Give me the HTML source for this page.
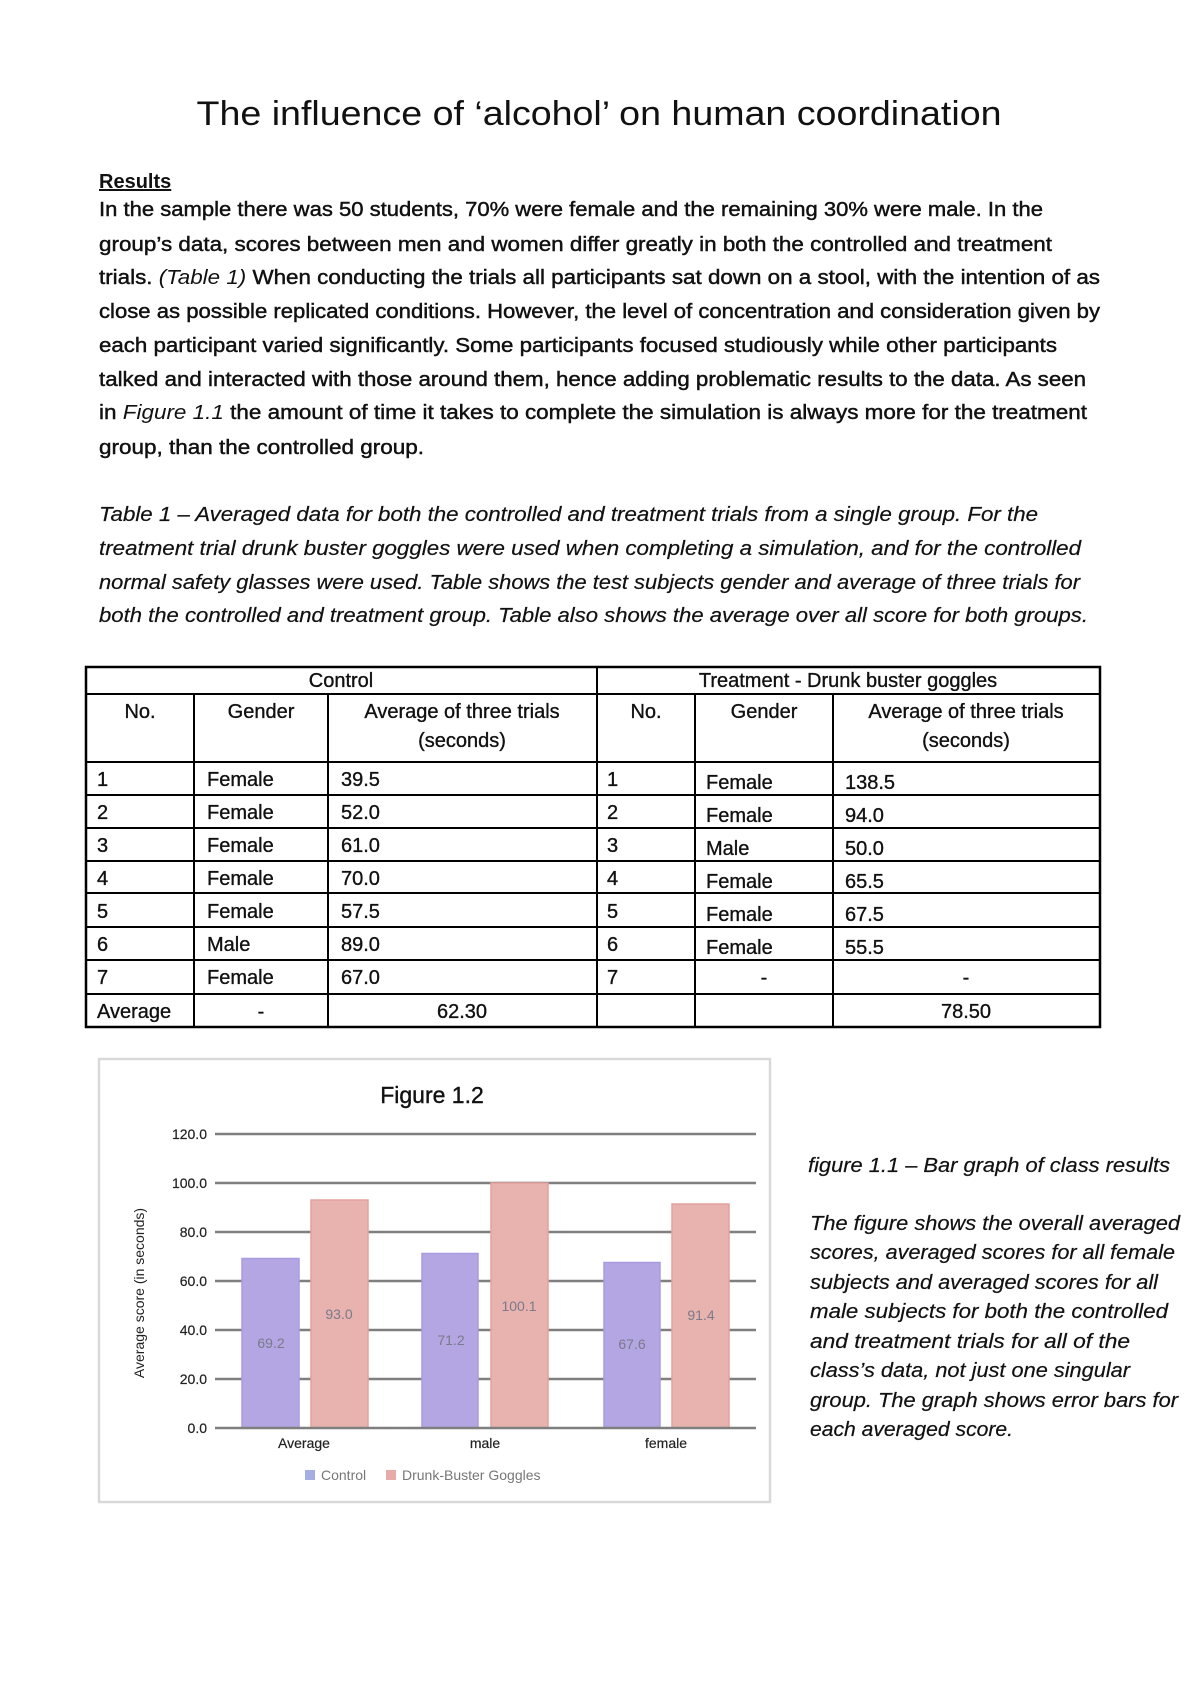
<!DOCTYPE html>
<html><head><meta charset="utf-8"><style>html,body{margin:0;padding:0;background:#fff}svg{display:block}</style></head>
<body>
<svg width="1200" height="1698" viewBox="0 0 1200 1698" xmlns="http://www.w3.org/2000/svg" font-family="'Liberation Sans', sans-serif">
<rect width="1200" height="1698" fill="#fff"/>
<text x="599" y="125" font-size="34" text-anchor="middle" textLength="805" lengthAdjust="spacingAndGlyphs" fill="#111">The influence of ‘alcohol’ on human coordination</text>
<text x="99" y="188" font-size="20" font-weight="bold" text-decoration="underline" fill="#111">Results</text>
<g font-size="20" fill="#111" stroke="#111" stroke-width="0.45">
<text x="99" y="216" textLength="944" lengthAdjust="spacingAndGlyphs">In the sample there was 50 students, 70% were female and the remaining 30% were male. In the</text>
<text x="99" y="251" textLength="953" lengthAdjust="spacingAndGlyphs">group’s data, scores between men and women differ greatly in both the controlled and treatment</text>
<text x="99" y="284" textLength="1001" lengthAdjust="spacingAndGlyphs">trials. <tspan font-style="italic" stroke-width="0">(Table 1)</tspan> When conducting the trials all participants sat down on a stool, with the intention of as</text>
<text x="99" y="318" textLength="1001" lengthAdjust="spacingAndGlyphs">close as possible replicated conditions. However, the level of concentration and consideration given by</text>
<text x="99" y="352" textLength="958" lengthAdjust="spacingAndGlyphs">each participant varied significantly. Some participants focused studiously while other participants</text>
<text x="99" y="386" textLength="987" lengthAdjust="spacingAndGlyphs">talked and interacted with those around them, hence adding problematic results to the data. As seen</text>
<text x="99" y="419" textLength="988" lengthAdjust="spacingAndGlyphs">in <tspan font-style="italic" stroke-width="0">Figure 1.1</tspan> the amount of time it takes to complete the simulation is always more for the treatment</text>
<text x="99" y="454" textLength="325" lengthAdjust="spacingAndGlyphs">group, than the controlled group.</text>
</g>
<g font-size="20" font-style="italic" fill="#111" stroke="#111" stroke-width="0.2">
<text x="99" y="521" textLength="939" lengthAdjust="spacingAndGlyphs">Table 1 – Averaged data for both the controlled and treatment trials from a single group. For the</text>
<text x="99" y="555" textLength="982" lengthAdjust="spacingAndGlyphs">treatment trial drunk buster goggles were used when completing a simulation, and for the controlled</text>
<text x="99" y="589" textLength="981" lengthAdjust="spacingAndGlyphs">normal safety glasses were used. Table shows the test subjects gender and average of three trials for</text>
<text x="99" y="622" textLength="989" lengthAdjust="spacingAndGlyphs">both the controlled and treatment group. Table also shows the average over all score for both groups.</text>
</g>
<g stroke="#000" fill="none">
<rect x="86" y="667" width="1014" height="360" stroke-width="2.5"/>
<g stroke-width="2">
<line x1="86" y1="694" x2="1100" y2="694"/>
<line x1="86" y1="762" x2="1100" y2="762"/>
<line x1="86" y1="795" x2="1100" y2="795"/>
<line x1="86" y1="828" x2="1100" y2="828"/>
<line x1="86" y1="861" x2="1100" y2="861"/>
<line x1="86" y1="893" x2="1100" y2="893"/>
<line x1="86" y1="927" x2="1100" y2="927"/>
<line x1="86" y1="960" x2="1100" y2="960"/>
<line x1="86" y1="994" x2="1100" y2="994"/>
<line x1="597" y1="667" x2="597" y2="1027"/>
<line x1="194" y1="694" x2="194" y2="1027"/>
<line x1="328" y1="694" x2="328" y2="1027"/>
<line x1="695" y1="694" x2="695" y2="1027"/>
<line x1="833" y1="694" x2="833" y2="1027"/>
</g></g>
<g font-size="20" fill="#111" stroke="#111" stroke-width="0.35">
<text x="341" y="687" text-anchor="middle">Control</text>
<text x="848" y="687" text-anchor="middle">Treatment - Drunk buster goggles</text>
<text x="140" y="718" text-anchor="middle">No.</text>
<text x="261" y="718" text-anchor="middle">Gender</text>
<text x="462" y="718" text-anchor="middle">Average of three trials</text>
<text x="462" y="747" text-anchor="middle">(seconds)</text>
<text x="646" y="718" text-anchor="middle">No.</text>
<text x="764" y="718" text-anchor="middle">Gender</text>
<text x="966" y="718" text-anchor="middle">Average of three trials</text>
<text x="966" y="747" text-anchor="middle">(seconds)</text>
<text x="97" y="786">1</text><text x="207" y="786">Female</text><text x="341" y="786">39.5</text><text x="607" y="786">1</text><text x="706" y="789">Female</text><text x="845" y="789">138.5</text>
<text x="97" y="819">2</text><text x="207" y="819">Female</text><text x="341" y="819">52.0</text><text x="607" y="819">2</text><text x="706" y="822">Female</text><text x="845" y="822">94.0</text>
<text x="97" y="852">3</text><text x="207" y="852">Female</text><text x="341" y="852">61.0</text><text x="607" y="852">3</text><text x="706" y="855">Male</text><text x="845" y="855">50.0</text>
<text x="97" y="885">4</text><text x="207" y="885">Female</text><text x="341" y="885">70.0</text><text x="607" y="885">4</text><text x="706" y="888">Female</text><text x="845" y="888">65.5</text>
<text x="97" y="918">5</text><text x="207" y="918">Female</text><text x="341" y="918">57.5</text><text x="607" y="918">5</text><text x="706" y="921">Female</text><text x="845" y="921">67.5</text>
<text x="97" y="951">6</text><text x="207" y="951">Male</text><text x="341" y="951">89.0</text><text x="607" y="951">6</text><text x="706" y="954">Female</text><text x="845" y="954">55.5</text>
<text x="97" y="984">7</text><text x="207" y="984">Female</text><text x="341" y="984">67.0</text><text x="607" y="984">7</text><text x="764" y="984" text-anchor="middle">-</text><text x="966" y="984" text-anchor="middle">-</text>
<text x="97" y="1018">Average</text><text x="261" y="1018" text-anchor="middle">-</text><text x="462" y="1018" text-anchor="middle">62.30</text><text x="966" y="1018" text-anchor="middle">78.50</text>
</g>
<rect x="99" y="1059" width="671" height="443" fill="#fff" stroke="#d9d9d9" stroke-width="2.5"/>
<text x="432" y="1103" font-size="23" text-anchor="middle" fill="#111" stroke="#111" stroke-width="0.4">Figure 1.2</text>
<g stroke="#7f7f7f" stroke-width="2.5">
<line x1="215" y1="1134" x2="756" y2="1134"/>
<line x1="215" y1="1183" x2="756" y2="1183"/>
<line x1="215" y1="1232" x2="756" y2="1232"/>
<line x1="215" y1="1281" x2="756" y2="1281"/>
<line x1="215" y1="1330" x2="756" y2="1330"/>
<line x1="215" y1="1379" x2="756" y2="1379"/>
</g>
<g font-size="14" fill="#222" text-anchor="end" stroke="#222" stroke-width="0.2">
<text x="207" y="1139">120.0</text><text x="207" y="1188">100.0</text><text x="207" y="1237">80.0</text><text x="207" y="1286">60.0</text><text x="207" y="1335">40.0</text><text x="207" y="1384">20.0</text><text x="207" y="1433">0.0</text>
</g>
<text transform="translate(144,1293) rotate(-90)" font-size="14" text-anchor="middle" fill="#222">Average score (in seconds)</text>
<g stroke-width="1.5">
<rect x="242" y="1258.5" width="57" height="169.5" fill="#b4a6e3" stroke="#aa9be0"/>
<rect x="311" y="1200" width="57" height="228" fill="#e8b2ae" stroke="#e3a29d"/>
<rect x="422" y="1253.5" width="56" height="174.5" fill="#b4a6e3" stroke="#aa9be0"/>
<rect x="491" y="1183" width="57" height="245" fill="#e8b2ae" stroke="#e3a29d"/>
<rect x="604" y="1262.5" width="56" height="165.5" fill="#b4a6e3" stroke="#aa9be0"/>
<rect x="672" y="1204" width="57" height="224" fill="#e8b2ae" stroke="#e3a29d"/>
</g>
<line x1="215" y1="1428" x2="756" y2="1428" stroke="#7f7f7f" stroke-width="2.5"/>
<g font-size="14" fill="#7a7a8a" text-anchor="middle">
<text x="271" y="1348">69.2</text><text x="339" y="1319">93.0</text><text x="451" y="1345">71.2</text><text x="519" y="1311">100.1</text><text x="632" y="1349">67.6</text><text x="701" y="1320">91.4</text>
</g>
<g font-size="14" fill="#222" text-anchor="middle" stroke="#222" stroke-width="0.2">
<text x="304" y="1448">Average</text><text x="485" y="1448">male</text><text x="666" y="1448">female</text>
</g>
<rect x="305" y="1470" width="10" height="10" fill="#a4aee3"/>
<text x="321" y="1480" font-size="14" fill="#777">Control</text>
<rect x="386" y="1470" width="10" height="10" fill="#e8aaa6"/>
<text x="402" y="1480" font-size="14" fill="#777">Drunk-Buster Goggles</text>
<g font-size="20" font-style="italic" fill="#111" stroke="#111" stroke-width="0.2">
<text x="808" y="1172" textLength="362" lengthAdjust="spacingAndGlyphs">figure 1.1 – Bar graph of class results</text>
<text x="810" y="1230" textLength="370" lengthAdjust="spacingAndGlyphs">The figure shows the overall averaged</text>
<text x="810" y="1259" textLength="365" lengthAdjust="spacingAndGlyphs">scores, averaged scores for all female</text>
<text x="810" y="1289" textLength="348" lengthAdjust="spacingAndGlyphs">subjects and averaged scores for all</text>
<text x="810" y="1318" textLength="358" lengthAdjust="spacingAndGlyphs">male subjects for both the controlled</text>
<text x="810" y="1348" textLength="320" lengthAdjust="spacingAndGlyphs">and treatment trials for all of the</text>
<text x="810" y="1377" textLength="320" lengthAdjust="spacingAndGlyphs">class’s data, not just one singular</text>
<text x="810" y="1407" textLength="368" lengthAdjust="spacingAndGlyphs">group. The graph shows error bars for</text>
<text x="810" y="1436" textLength="203" lengthAdjust="spacingAndGlyphs">each averaged score.</text>
</g>
</svg>
</body></html>
